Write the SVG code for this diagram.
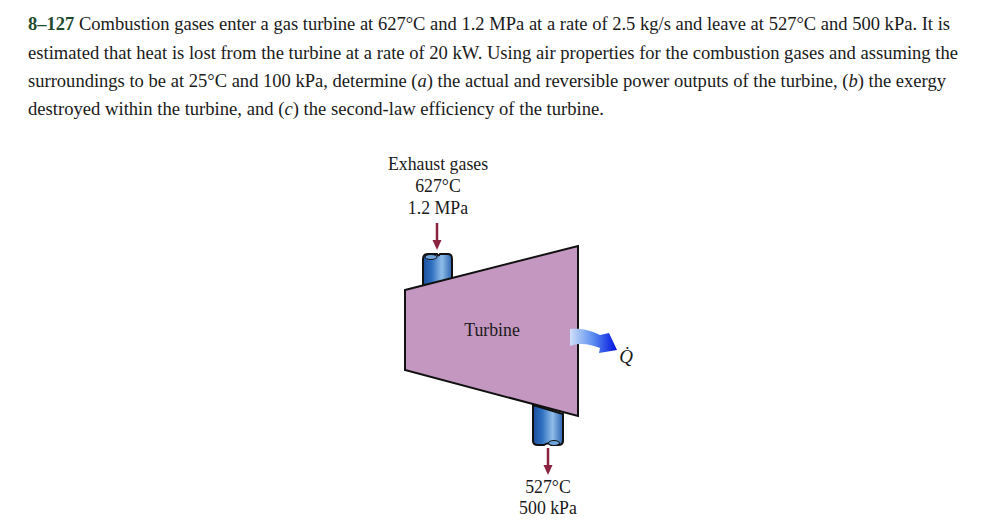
<svg xmlns="http://www.w3.org/2000/svg" width="1003" height="523" viewBox="0 0 1003 523">
<style>
text{font-family:"Liberation Serif","Times New Roman",serif;fill:#1a1a1a}
.b{font-size:18px}
.l{font-size:17.800px;text-anchor:middle}
.a{fill:none;stroke:#8a2340;stroke-width:2.500}
.h{fill:#8a2340}
</style>
<defs>
<linearGradient id="p" x1="0" x2="1" y1="0" y2="0">
<stop offset="0" stop-color="#1d4f9c"/><stop offset=".3" stop-color="#2f6fc0"/><stop offset=".65" stop-color="#8fbde8"/><stop offset="1" stop-color="#2a62b0"/>
</linearGradient>
<linearGradient id="q" x1="0" x2="1" y1="0" y2="0">
<stop offset="0" stop-color="#cfe0f8"/><stop offset=".5" stop-color="#5a8cf0"/><stop offset="1" stop-color="#0010e0"/>
</linearGradient>
</defs>
<rect width="1003" height="523" fill="#fff"/>
<g id="problem-text">
<text class="b" x="28" y="30" textLength="922" lengthAdjust="spacingAndGlyphs"><tspan font-weight="bold" fill="#1f4a2c">8–127</tspan> Combustion gases enter a gas turbine at 627°C and 1.2 MPa at a rate of 2.5 kg/s and leave at 527°C and 500 kPa. It is</text>
<text class="b" x="28" y="59" textLength="930" lengthAdjust="spacingAndGlyphs">estimated that heat is lost from the turbine at a rate of 20 kW. Using air properties for the combustion gases and assuming the</text>
<text class="b" x="28" y="87" textLength="918" lengthAdjust="spacingAndGlyphs">surroundings to be at 25°C and 100 kPa, determine (<tspan font-style="italic">a</tspan>) the actual and reversible power outputs of the turbine, (<tspan font-style="italic">b</tspan>) the exergy</text>
<text class="b" x="28" y="115" textLength="576" lengthAdjust="spacingAndGlyphs">destroyed within the turbine, and (<tspan font-style="italic">c</tspan>) the second-law efficiency of the turbine.</text>
</g>
<g id="inlet-pipe">
<path d="M423 288V259Q423 254 428 254H437Q438 257 440 254H448Q452 254 452 259V281Z" fill="url(#p)" stroke="#111" stroke-width="2"/>
<ellipse cx="431" cy="257" rx="6" ry="2.500" fill="#6ea4dc" stroke="#111" stroke-width="1"/>
</g>
<g id="outlet-pipe">
<path d="M533 405V441Q533 445 538 445H544Q548 442 551 445H558Q563 445 563 441V414Z" fill="url(#p)" stroke="#111" stroke-width="2"/>
<ellipse cx="554" cy="443" rx="5.500" ry="2.500" fill="#6ea4dc" stroke="#111" stroke-width="1"/>
</g>
<g id="turbine">
<polygon points="405,290 578,246 578,416 405,370" fill="#c497c1" stroke="#111" stroke-width="2"/>
<text class="l" x="492" y="336">Turbine</text>
</g>
<g id="heat-loss">
<path d="M570 329C582 328 592 331 600 335L609 333L617 350L599 353L600 348C591 345 582 342 570 346Z" fill="url(#q)"/>
<text x="626" y="363" font-size="19" font-style="italic" text-anchor="middle">Q̇</text>
</g>
<g id="connectors">
<line class="a" x1="437" y1="223" x2="437" y2="242"/>
<polygon class="h" points="432.500,240 441.500,240 437,250"/>
<line class="a" x1="548" y1="448" x2="548" y2="467"/>
<polygon class="h" points="543.500,465 552.500,465 548,475"/>
</g>
<g id="inlet-label">
<text class="l" x="438" y="170">Exhaust gases</text>
<text class="l" x="438" y="192">627°C</text>
<text class="l" x="438" y="214">1.2 MPa</text>
</g>
<g id="outlet-label">
<text class="l" x="548" y="493">527°C</text>
<text class="l" x="548" y="514">500 kPa</text>
</g>
</svg>
